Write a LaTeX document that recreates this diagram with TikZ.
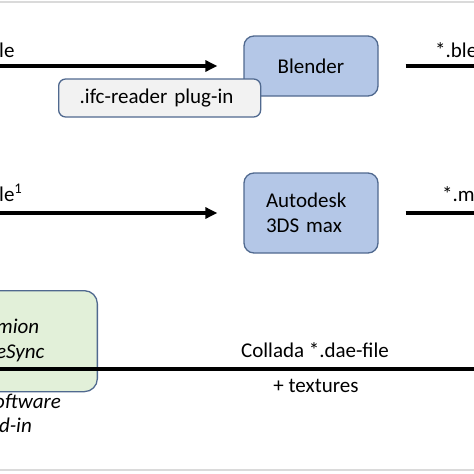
\documentclass[tikz,border=0pt]{standalone}
\usepackage{fontspec}
\setmainfont{Carlito}
\usetikzlibrary{arrows.meta}
\definecolor{boxblue}{HTML}{B4C7E7}
\definecolor{boxline}{HTML}{50698F}
\definecolor{plugfill}{HTML}{F2F2F2}
\definecolor{greenfill}{HTML}{E2F0D9}
\definecolor{frameline}{HTML}{DADADA}
\tikzset{
  bluebox/.style={draw=boxline, fill=boxblue, line width=1.3pt, rounded corners=10pt, minimum width=134pt},
  plugbox/.style={draw=boxline, fill=plugfill, line width=1.3pt, rounded corners=7pt},
  greenbox/.style={draw=boxline, fill=greenfill, line width=1.3pt, rounded corners=13pt},
  arr/.style={line width=3.5pt, -{Triangle[length=12pt,width=11pt]}},
  flow/.style={line width=3.5pt},
  lbl/.style={inner sep=0pt, anchor=base west},
  frame/.style={draw=frameline, line width=2pt}
}
\begin{document}
\begin{tikzpicture}[x=1pt,y=-1pt, font=\fontsize{21}{25}\selectfont]
\useasboundingbox (0,0) rectangle (474,474);
% frame lines
\coordinate (ftl) at (-5,2); \coordinate (ftr) at (480,2);
\coordinate (fbl) at (-5,470); \coordinate (fbr) at (480,470);
\draw[frame] (ftl) -- (ftr);
\draw[frame] (fbl) -- (fbr);

% Row 1
\node[bluebox, minimum height=60pt] (blender) at (311,66) {Blender};
\coordinate (a1s) at (-5,66);
\coordinate (a1o) at (480,66);
\draw[arr] (a1s) -- ([xshift=-26pt]blender.west);
\draw[flow] ([xshift=27pt]blender.east) -- (a1o);
\node[plugbox, minimum height=38pt, inner xsep=21pt, text width=160pt, align=left, anchor=west] (ifc) at (58,98) {.ifc-reader plug-in};
\node[lbl] (l1) at (-1,57) {le};
\node[lbl] (r1) at (435,57) {*.ble};

% Row 2
\node[bluebox, minimum height=80pt, inner xsep=22pt, text width=90pt, align=left] (max) at (311,213) {Autodesk\\3DS max};
\coordinate (a2s) at (-5,213);
\coordinate (a2o) at (480,213);
\draw[arr] (a2s) -- ([xshift=-26pt]max.west);
\draw[flow] ([xshift=27pt]max.east) -- (a2o);
\node[lbl] (l2) at (-1,201) {le\textsuperscript{1}};
\node[lbl] (r2) at (442,201) {*.m};

% Row 3
\node[greenbox, minimum width=120pt, minimum height=101pt, anchor=north east] (twin) at (98,290) {};
\node[inner sep=0pt, align=left, anchor=west, font=\fontsize{21}{25}\selectfont\itshape] (twintxt) at (-4,340) {mion\\eSync};
\coordinate (a3s) at (-5,369);
\coordinate (a3o) at (480,369);
\draw[flow] (a3s) -- (a3o);
\node[inner sep=0pt, anchor=base] (col) at (315,357) {Collada *.dae-file};
\node[inner sep=0pt, anchor=base] (tex) at (316,392) {+ textures};
\node[inner sep=0pt, align=left, anchor=base west, font=\fontsize{21}{24}\selectfont\itshape] (sw) at (-6,432) {oftware\\ld-in};
\end{tikzpicture}
\end{document}
